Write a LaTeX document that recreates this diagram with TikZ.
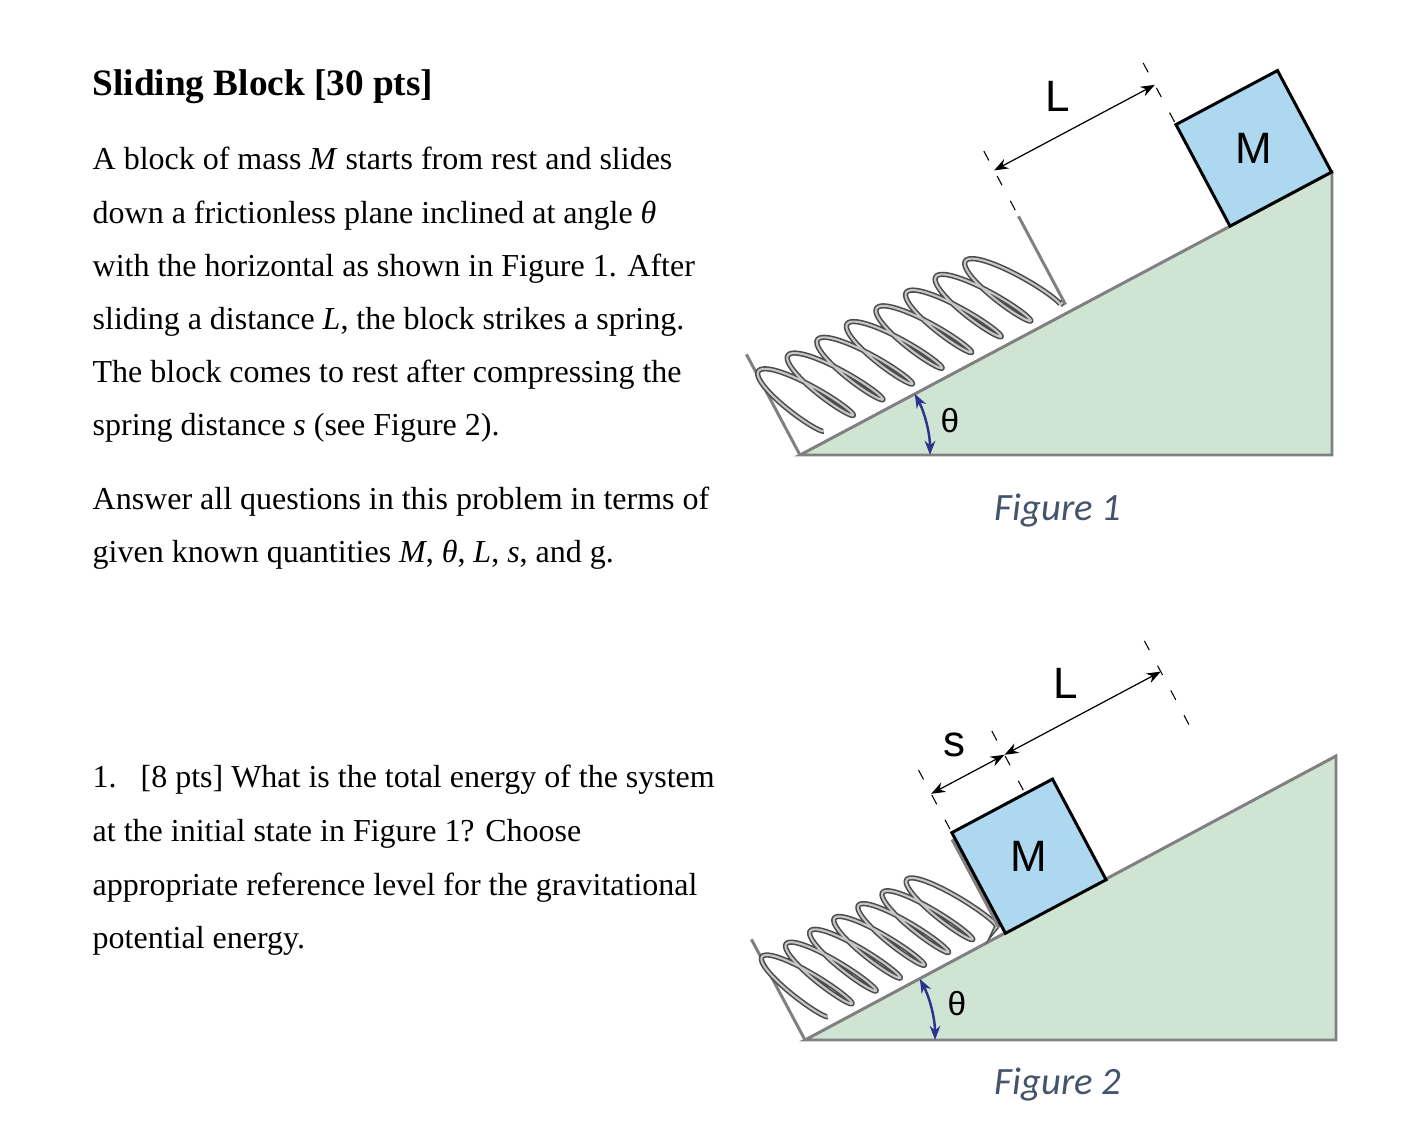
\documentclass[tikz,border=0pt]{standalone}
\usepackage{fontspec}
\setmainfont{Liberation Serif}
\newfontfamily\figsans{Liberation Sans}
\newfontfamily\capfont{Carlito}
\usetikzlibrary{arrows.meta}
\definecolor{wedge}{RGB}{208,228,212}
\definecolor{blockblue}{RGB}{173,216,240}
\definecolor{edgegray}{RGB}{128,128,128}
\definecolor{thetablue}{RGB}{45,50,140}
\definecolor{capcol}{RGB}{68,84,106}
\begin{document}
\begin{tikzpicture}[x=0.1mm,y=-0.1mm,
  body/.style={anchor=base west,inner sep=0pt,font=\fontsize{9.1pt}{11pt}\selectfont},
  lbl/.style={inner sep=0pt,font=\figsans\fontsize{12.5pt}{14pt}\selectfont},
  thlbl/.style={inner sep=0pt,font=\figsans\fontsize{9.5pt}{11pt}\selectfont},
  figcap/.style={inner sep=0pt,text=capcol,font=\capfont\itshape\fontsize{11pt}{13pt}\selectfont},
  ramp/.style={fill=wedge,draw=edgegray,line width=0.85pt,line join=miter},
  wall/.style={draw=edgegray,line width=0.85pt},
  block/.style={fill=blockblue,draw=black,line width=0.85pt,line join=miter},
  spring/.style={draw=black!70,double=gray!45,double distance=0.6pt,line width=0.45pt},
  guide/.style={draw=black,line width=0.3pt,dash pattern=on 3pt off 5pt},
  dim/.style={draw=black,line width=0.35pt,{Stealth[length=4pt]}-{Stealth[length=4pt]}},
  thetaarc/.style={draw=thetablue,line width=0.7pt,{Stealth[length=4pt]}-{Stealth[length=4pt]}}]
\useasboundingbox (0,0) rectangle (1406,1142);

% ---- text ----
\node[anchor=base west,inner sep=0pt,font=\bfseries\fontsize{10.6pt}{13pt}\selectfont] (title) at (92,95) {Sliding Block [30 pts]};
\node[body] (t1) at (92,170) {A block of mass \textit{M} starts from rest and slides};
\node[body] (t2) at (92,223) {down a frictionless plane inclined at angle \textit{θ}};
\node[body] (t3) at (92,276) {with the horizontal as shown in Figure 1. After};
\node[body] (t4) at (92,329) {sliding a distance \textit{L}, the block strikes a spring.};
\node[body] (t5) at (92,382) {The block comes to rest after compressing the};
\node[body] (t6) at (92,436) {spring distance \textit{s} (see Figure 2).};
\node[body] (t7) at (92,510) {Answer all questions in this problem in terms of};
\node[body] (t8) at (92,563) {given known quantities \textit{M}, \textit{θ}, \textit{L}, \textit{s}, and g.};
\node[body] (q0) at (92,788) {1.};
\node[body] (q1) at (140,788) {[8 pts] What is the total energy of the system};
\node[body] (q2) at (92,841) {at the initial state in Figure 1? Choose};
\node[body] (q3) at (92,895) {appropriate reference level for the gravitational};
\node[body] (q4) at (92,948) {potential energy.};

% ---- Figure 1 ----
\draw[ramp] (800,455) -- (1332,172) -- (1332,455) -- cycle;
\node[figcap] (cap1) at (1058,511) {Figure 1};
\begin{scope}[shift={(80mm,-45.5mm)},x={(0.0883mm,0.0470mm)},y={(-0.0470mm,0.0883mm)}]
  \draw[wall] (0,0) -- (0,114);
  \draw[spring] plot[domain=0:16*pi,samples=700,variable=\t]
    ({10+5.33*\t-10*sin(\t r)+22*cos(\t r)},{52-42*cos(\t r)}) -- (305,12);
  \draw[wall] (305,8) -- (305,108);
  \coordinate (a1) at (305,160);
  \coordinate (b1) at (487,160);
  \draw[guide] (305,115) -- (305,190);
  \draw[guide] (487,118) -- (487,198);
  \draw[dim] (a1) -- (b1);
  \node[lbl] (L1) at (396,195) {L};
  \draw[block] (487,0) -- (602,0) -- (602,115) -- (487,115) -- cycle;
  \node[lbl] (M1) at (544.5,57.5) {M};
  \draw[thetaarc] (-28:130) arc[start angle=-28,end angle=0,radius=130];
\end{scope}
\node[thlbl] (th1) at (950,421) {θ};

% ---- Figure 2 ----
\draw[ramp] (805,1040) -- (1336,756) -- (1336,1040) -- cycle;
\node[figcap] (cap2) at (1058,1085) {Figure 2};
\begin{scope}[shift={(80.5mm,-104mm)},x={(0.0883mm,0.0470mm)},y={(-0.0470mm,0.0883mm)}]
  \draw[wall] (0,0) -- (0,114);
  \draw[spring] plot[domain=0:14*pi,samples=700,variable=\t]
    ({10+4.35*\t-9*sin(\t r)+21*cos(\t r)},{52-42*cos(\t r)}) -- (225,12);
  \draw[wall] (224,8) -- (224,108);
  \coordinate (a2) at (227,158);
  \coordinate (m2) at (310,158);
  \coordinate (b2) at (487,158);
  \draw[guide] (227,118) -- (227,190);
  \draw[guide] (310,118) -- (310,190);
  \draw[guide] (487,98) -- (487,200);
  \draw[dim] (a2) -- (m2);
  \draw[dim] (m2) -- (b2);
  \node[lbl] (s2) at (270,190) {s};
  \node[lbl] (L2) at (398,192) {L};
  \draw[block] (227,0) -- (341,0) -- (341,114) -- (227,114) -- cycle;
  \node[lbl] (M2) at (284,57) {M};
  \draw[thetaarc] (-28:130) arc[start angle=-28,end angle=0,radius=130];
\end{scope}
\node[thlbl] (th2) at (957,1004) {θ};
\end{tikzpicture}
\end{document}
